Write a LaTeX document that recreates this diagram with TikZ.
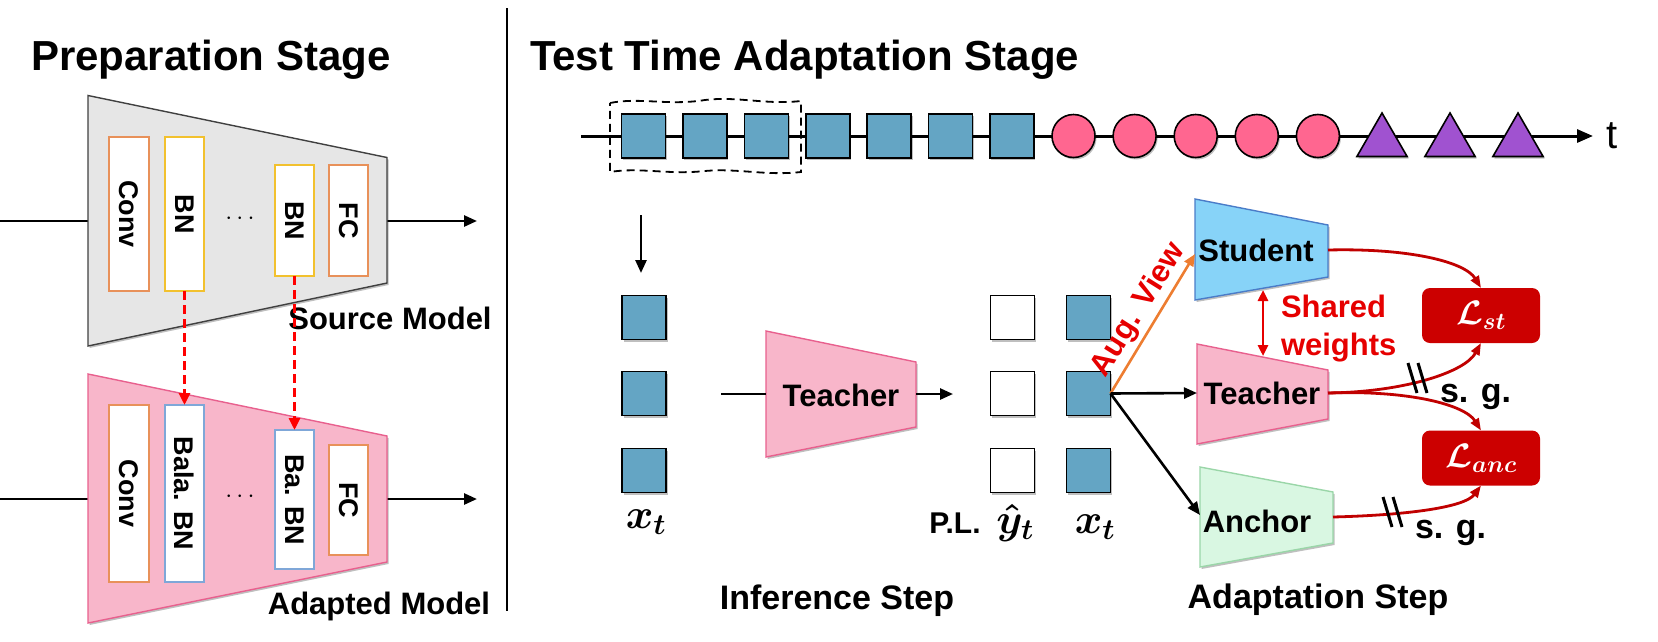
\documentclass[tikz,border=0pt]{standalone}
\usepackage{fix-cm}
\usepackage{fontspec}
\setmainfont{Liberation Sans}
\usetikzlibrary{arrows.meta,shapes.geometric,shadows}
\newcommand\setfs[1]{\fontsize{#1}{#1}\selectfont}
\definecolor{grayfill}{HTML}{E6E6E6}
\definecolor{grayline}{HTML}{404040}
\definecolor{pinkfill}{HTML}{F8B6CA}
\definecolor{pinkline}{HTML}{E8608E}
\definecolor{bluefill}{HTML}{87D3F8}
\definecolor{blueline}{HTML}{4A7CC8}
\definecolor{greenfill}{HTML}{D9F7E2}
\definecolor{greenline}{HTML}{9AD6A8}
\definecolor{convc}{HTML}{E8915A}
\definecolor{bnc}{HTML}{F2C12E}
\definecolor{balac}{HTML}{7FA7D8}
\definecolor{sqc}{HTML}{64A5C4}
\definecolor{circc}{HTML}{FF6690}
\definecolor{tric}{HTML}{A052D0}
\definecolor{lossc}{HTML}{CC0000}
\definecolor{curvec}{HTML}{C00000}
\definecolor{redtxt}{HTML}{E60000}
\definecolor{orangec}{HTML}{ED7D31}
\begin{document}
\begin{tikzpicture}[x=1pt,y=-1pt,
  every node/.style={inner sep=0pt, outer sep=0pt},
  myshadow/.style={drop shadow={shadow xshift=1.5pt,shadow yshift=-2pt,opacity=0.25,fill=black}},
  title/.style={font=\setfs{42}\bfseries},
  lab/.style={font=\setfs{31}\bfseries},
  steplab/.style={font=\setfs{34}\bfseries},
  mathlab/.style={font=\setfs{42}\boldmath},
  layer/.style={draw, fill=white, line width=1.6pt, rotate=-90, font=\setfs{27}\bfseries},
  convl/.style={layer, draw=convc},
  bnl/.style={layer, draw=bnc},
  balal/.style={layer, draw=balac},
  sq/.style={draw=black, line width=1.6pt, fill=sqc, minimum size=44pt, myshadow},
  wsq/.style={sq, fill=white},
  circ/.style={circle, draw=black, line width=1.6pt, fill=circc, minimum size=43pt, myshadow},
  tri/.style={regular polygon, regular polygon sides=3, draw=black, line width=1.6pt, fill=tric, minimum size=58pt, myshadow},
  blk/.style={line width=2.6pt, -{Triangle[length=13pt,width=11pt]}},
  plain/.style={line width=2.6pt},
  reddash/.style={draw=red, line width=3pt, dash pattern=on 9pt off 5pt, -{Triangle[length=12pt,width=11pt]}},
  rcurve/.style={draw=curvec, line width=2.8pt, -{Triangle[length=12pt,width=9pt]}},
  loss/.style={fill=lossc, rounded corners=8pt, minimum width=118pt, minimum height=55pt, text=white, font=\setfs{34}\boldmath},
  slash/.style={line width=3pt},
  srcshape/.style={draw=grayline, fill=grayfill, line width=1.4pt, myshadow},
  pinkshape/.style={draw=pinkline, fill=pinkfill, line width=1.4pt, myshadow},
  blueshape/.style={draw=blueline, fill=bluefill, line width=1.4pt, myshadow},
  greenshape/.style={draw=greenline, fill=greenfill, line width=1.4pt, myshadow}
]
\useasboundingbox (0,0) rectangle (1658,641);

% ---------------- titles and divider
\node[title, anchor=base west] (tprep) at (31,70) {Preparation Stage};
\node[title, anchor=base west] (ttta) at (530,70) {Test Time Adaptation Stage};
\coordinate (dv0) at (507,8);
\coordinate (dv1) at (507,611);
\draw[line width=1.2pt] (dv0) -- (dv1);

% ---------------- source model
\coordinate (srcin) at (0,221);
\coordinate (srcL) at (88,221);
\coordinate (srcR) at (387,221);
\coordinate (srcout) at (477,221);
\draw[plain] (srcin) -- (srcL);
\draw[blk] (srcR) -- (srcout);
\path[srcshape] (88,95.5) -- (387,157.5) -- (387,283) -- (88,346) -- cycle;
\node[convl, minimum width=154pt, minimum height=40pt] (sconv) at (129,214) {Conv};
\node[bnl, minimum width=154pt, minimum height=39pt] (sbn1) at (184.5,214) {BN};
\node[font=\setfs{25}] (sdots) at (240,219) {$\cdots$};
\node[bnl, minimum width=111pt, minimum height=39pt] (sbn2) at (294.5,220.5) {BN};
\node[convl, minimum width=111pt, minimum height=39pt] (sfc) at (348.5,220.5) {FC};
\node[lab, anchor=base] (srclab) at (390,329) {Source Model};

% ---------------- adapted model
\coordinate (adin) at (0,499);
\coordinate (adL) at (88,499);
\coordinate (adR) at (387,499);
\coordinate (adout) at (477,499);
\draw[plain] (adin) -- (adL);
\draw[blk] (adR) -- (adout);
\path[pinkshape] (88,374) -- (387,436) -- (387,562) -- (88,623) -- cycle;
\node[convl, minimum width=177pt, minimum height=40pt] (aconv) at (129,493.5) {Conv};
\node[balal, minimum width=177pt, minimum height=39pt] (abn1) at (184.5,493.5) {Bala. BN};
\node[font=\setfs{25}] (adots) at (240,497) {$\cdots$};
\node[balal, minimum width=139pt, minimum height=39pt] (abn2) at (294.5,499.5) {Ba. BN};
\node[convl, minimum width=110pt, minimum height=39pt] (afc) at (348.5,500) {FC};
\node[lab, anchor=base] (adlab) at (379,614) {Adapted Model};

\draw[reddash] (sbn1.east) -- (abn1.west);
\draw[reddash] (sbn2.east) -- (abn2.west);

% ---------------- timeline
\coordinate (tl0) at (581,136);
\coordinate (tl1) at (1593,136);
\draw[line width=3pt, -{Triangle[length=16pt,width=13pt]}] (tl0) -- (tl1);
\foreach \i/\x in {1/643.5,2/704.9,3/766.3,4/827.7,5/889.1,6/950.5,7/1011.9}
  \node[sq] (s\i) at (\x,136) {};
\foreach \i/\x in {1/1073.5,2/1134.6,3/1195.7,4/1256.8,5/1317.9}
  \node[circ] (c\i) at (\x,136) {};
\foreach \i/\x in {1/1382,2/1450,3/1518}
  \node[tri] (tr\i) at (\x,142) {};
\node[font=\setfs{40}] (tlab) at (1612,136) {t};
\draw[line width=1.8pt, dash pattern=on 8pt off 5pt]
  (610,103) .. controls (640,97) and (668,106) .. (705,100)
  .. controls (738,96) and (765,105) .. (801,101) -- (801,172)
  .. controls (765,176) and (738,168) .. (705,171)
  .. controls (668,175) and (640,167) .. (610,172) -- cycle;

% ---------------- inference step
\coordinate (da0) at (641,215);
\coordinate (da1) at (641,273);
\draw[blk] (da0) -- (da1);
\foreach \i/\y in {1/317.5,2/393.5,3/470.5}
  \node[sq] (xa\i) at (644,\y) {};
\node[mathlab, anchor=base] (xalab) at (646,528) {$x_t$};

\coordinate (infin) at (721,394);
\coordinate (tinfL) at (766,394);
\coordinate (tinfR) at (916,394);
\coordinate (infout) at (953,394);
\path[pinkshape] (766,331) -- (916,362) -- (916,427) -- (766,457) -- cycle;
\node[lab] (tinf) at (841,395) {Teacher};
\draw[plain] (infin) -- (tinfL);
\draw[blk] (tinfR) -- (infout);

\foreach \i/\y in {1/317.5,2/393.5,3/470.5}{
  \node[wsq] (yw\i) at (1012.5,\y) {};
  \node[sq] (xb\i) at (1088.5,\y) {};
}
\node[font=\setfs{30}\bfseries, anchor=base] (pl) at (955,533) {P.L.};
\node[mathlab, anchor=base] (yhat) at (1015,533) {$\hat{y}_t$};
\node[mathlab, anchor=base] (xblab) at (1095,533) {$x_t$};
\node[steplab, anchor=base] (infstep) at (837,609) {Inference Step};

% ---------------- adaptation step
\path[blueshape] (1195,199) -- (1328,225) -- (1328,277) -- (1195,300) -- cycle;
\node[lab] (stud) at (1256,250) {Student};
\path[pinkshape] (1197,344) -- (1328,370) -- (1328,419) -- (1197,444) -- cycle;
\node[lab] (teach) at (1262,393) {Teacher};
\path[greenshape] (1200,467) -- (1333,492) -- (1333,543) -- (1200,567) -- cycle;
\node[lab] (anch) at (1257,521) {Anchor};

\coordinate (stL) at (1195,254);
\coordinate (stR) at (1328,250);
\coordinate (stB) at (1263,290);
\coordinate (teL) at (1197,393);
\coordinate (teR) at (1328,393);
\coordinate (teT) at (1263,356);
\coordinate (anL) at (1200,515);
\coordinate (anR) at (1333,517);

\draw[line width=2.6pt, orangec, -{Triangle[length=12pt,width=10pt]}] (xb2.east) -- (stL);
\draw[blk] (xb2.east) -- (teL);
\draw[blk] (xb2.east) -- (anL);
\node[lab, text=redtxt, rotate=58] (aug) at (1139,310) {Aug. View};

\draw[redtxt, line width=2.6pt, {Triangle[length=11pt,width=10pt]}-{Triangle[length=11pt,width=10pt]}] (stB) -- (teT);
\node[text=redtxt, align=left, anchor=north west, font=\fontsize{31}{38}\selectfont\bfseries] (shw) at (1281,295) {Shared\\weights};

\node[loss] (lst) at (1481,315.5) {$\mathcal{L}_{st}$};
\node[loss] (lanc) at (1481,458) {$\mathcal{L}_{anc}$};

\draw[rcurve] (stR) .. controls (1410,248) and (1465,262) .. (lst.north);
\draw[rcurve] (teR) .. controls (1405,392) and (1465,372) .. (lst.south);
\draw[rcurve] (teR) .. controls (1410,390) and (1465,405) .. (lanc.north);
\draw[rcurve] (anR) .. controls (1410,515) and (1465,507) .. (lanc.south);

\coordinate (sg1) at (1418,378);
\coordinate (sg2) at (1393,512);
\draw[slash] ([shift={(-10,-15)}]sg1) -- ++(9,30);
\draw[slash] ([shift={(0,-15)}]sg1) -- ++(9,30);
\draw[slash] ([shift={(-10,-15)}]sg2) -- ++(9,30);
\draw[slash] ([shift={(0,-15)}]sg2) -- ++(9,30);
\node[steplab, anchor=base west] (sglab1) at (1440,402) {s. g.};
\node[steplab, anchor=base west] (sglab2) at (1415,538) {s. g.};

\node[steplab, anchor=base] (adstep) at (1318,608) {Adaptation Step};
\end{tikzpicture}
\end{document}
